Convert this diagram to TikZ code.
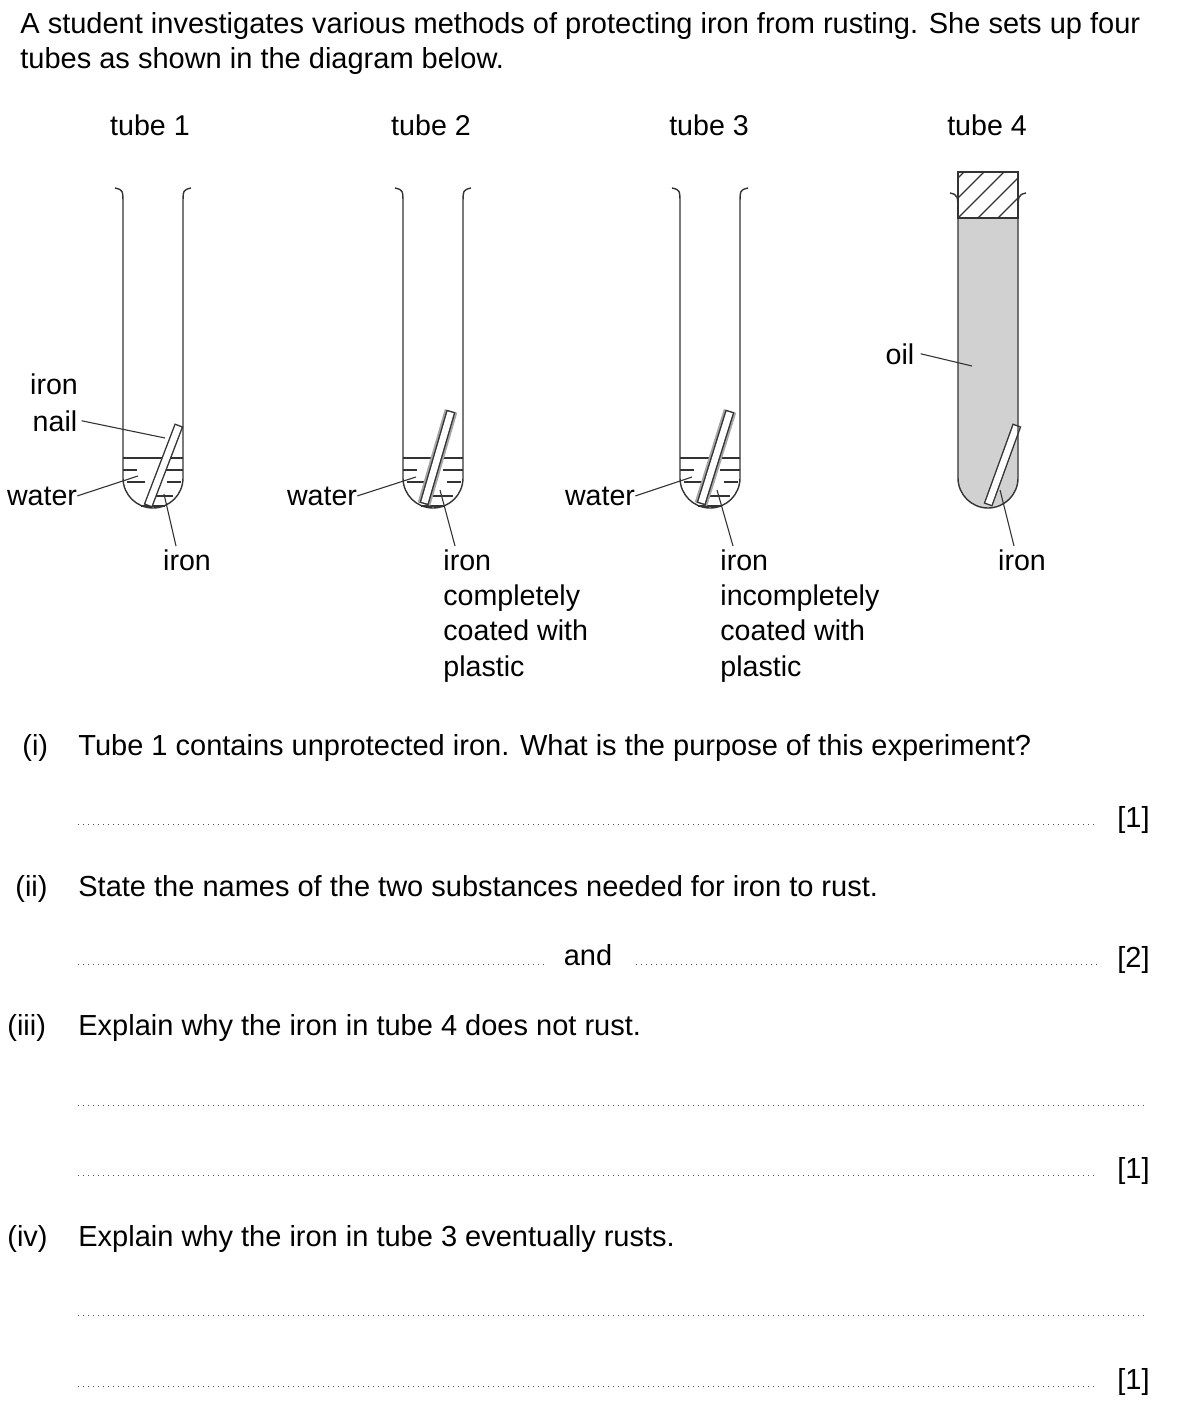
\documentclass[tikz,border=0pt]{standalone}
\usepackage{fontspec}
\setmainfont{Liberation Sans}
\begin{document}
\begin{tikzpicture}[x=0.5pt,y=-0.5pt,
  txt/.style={inner sep=0pt,font=\fontsize{14.5pt}{17pt}\selectfont,anchor=base west},
  lbl/.style={inner sep=0pt,font=\fontsize{14.3pt}{17pt}\selectfont},
  glass/.style={draw=black!80,line width=0.7pt},
  lead/.style={draw=black!80,line width=0.55pt},
  ans/.style={draw=black!70,dotted,line width=0.5pt}]
\useasboundingbox (0,0) rectangle (1202,1412);
\newcommand{\tubeat}[1]{%
  \draw[glass] (#1-8,188) .. controls (#1,190) .. (#1,205) -- (#1,478) arc (180:360:15pt) -- (#1+60,205) .. controls (#1+60,190) .. (#1+68,188);}
\newcommand{\nailat}[4]{%
  \draw[black!80,line width=4.6pt] (#1,#2) -- (#3,#4);
  \draw[white,line width=3.2pt,shorten <=0.7pt,shorten >=0.7pt] (#1,#2) -- (#3,#4);}
\newcommand{\waterat}[1]{%
  \draw[glass,line width=0.6pt] (#1,458) -- (#1+60,458);
  \foreach \a/\b/\yy in {0/14/470,40/60/470,4/22/482,44/58/482,30/50/496,18/42/506}
    \draw[black!80,line width=0.6pt] (#1+\a,\yy) -- (#1+\b,\yy);}
% header text
\node[txt] (l1) at (20,34) {A student investigates various methods of protecting iron from rusting. She sets up four};
\node[txt] (l2) at (20,69) {tubes as shown in the diagram below.};
\node[lbl,anchor=base] (t1) at (150,136) {tube 1};
\node[lbl,anchor=base] (t2) at (431,136) {tube 2};
\node[lbl,anchor=base] (t3) at (709,136) {tube 3};
\node[lbl,anchor=base] (t4) at (987,136) {tube 4};
% tube 1
\waterat{123}
\nailat{148}{506}{179}{425}
\tubeat{123}
% tube 2
\waterat{403}
\draw[black!35,line width=6.5pt] (424,504) -- (451,411);
\nailat{424}{504}{451}{411}
\tubeat{403}
% tube 3
\waterat{680}
\draw[black!35,line width=6.5pt] (701,504) -- (730,411);
\nailat{701}{504}{730}{411}
\tubeat{680}
% tube 4
\fill[black!18] (958,218) -- (958,478) arc (180:360:15pt) -- (1018,218) -- cycle;
\nailat{988}{505}{1017}{425}
\draw[glass] (950,193) .. controls (958,195) .. (958,215) -- (958,478) arc (180:360:15pt) -- (1018,215) .. controls (1018,195) .. (1026,193);
\begin{scope}
\clip (958,172) rectangle (1018,218);
\foreach \k in {-40,-20,...,80} \draw[black!80,line width=0.6pt] (958+\k,218) -- (958+\k+46,172);
\end{scope}
\draw[glass,fill=none] (958,172) rectangle (1018,218);
% labels tube 1
\node[lbl,anchor=base] (iron1a) at (54,394) {iron};
\node[lbl,anchor=base] (nail1) at (55,431) {nail};
\coordinate (nail1p) at (165,438);
\draw[lead] (nail1.east) ++(2pt,0) -- (nail1p);
\node[lbl,anchor=base] (water1) at (42,505) {water};
\coordinate (water1p) at (138,476);
\draw[lead] (water1.east) -- (water1p);
\node[lbl,anchor=base] (iron1) at (187,570) {iron};
\coordinate (iron1p) at (164,494);
\draw[lead] (176,546) -- (iron1p);
% tube 2
\node[lbl,anchor=base] (water2) at (322,505) {water};
\coordinate (water2p) at (416,477);
\draw[lead] (water2.east) -- (water2p);
\node[lbl,anchor=base west] (iron2) at (443,570) {iron};
\node[lbl,anchor=base west] (iron2b) at (443,605) {completely};
\node[lbl,anchor=base west] (iron2c) at (443,640) {coated with};
\node[lbl,anchor=base west] (iron2d) at (443,676) {plastic};
\coordinate (iron2p) at (440,490);
\draw[lead] (455,546) -- (iron2p);
% tube 3
\node[lbl,anchor=base] (water3) at (600,505) {water};
\coordinate (water3p) at (692,477);
\draw[lead] (water3.east) -- (water3p);
\node[lbl,anchor=base west] (iron3) at (720,570) {iron};
\node[lbl,anchor=base west] (iron3b) at (720,605) {incompletely};
\node[lbl,anchor=base west] (iron3c) at (720,640) {coated with};
\node[lbl,anchor=base west] (iron3d) at (720,676) {plastic};
\coordinate (iron3p) at (717,490);
\draw[lead] (733,546) -- (iron3p);
% tube 4
\node[lbl,anchor=base] (oil) at (900,364) {oil};
\coordinate (oilp) at (972,366);
\draw[lead] (oil.east) ++(3pt,0) -- (oilp);
\node[lbl,anchor=base] (iron4) at (1022,570) {iron};
\coordinate (iron4p) at (1000,490);
\draw[lead] (1014,546) -- (iron4p);
% questions
\node[txt] (q1n) at (22,755) {(i)};
\node[txt] (q1) at (78,755) {Tube 1 contains unprotected iron. What is the purpose of this experiment?};
\draw[ans] (78,824) -- (1097,824);
\node[txt,anchor=base east] (m1) at (1150,827) {[1]};
\node[txt] (q2n) at (15,896) {(ii)};
\node[txt] (q2) at (78,896) {State the names of the two substances needed for iron to rust.};
\draw[ans] (78,964) -- (547,964);
\node[txt,anchor=base] (and) at (588,965) {and};
\draw[ans] (636,964) -- (1097,964);
\node[txt,anchor=base east] (m2) at (1150,967) {[2]};
\node[txt] (q3n) at (7,1035) {(iii)};
\node[txt] (q3) at (78,1035) {Explain why the iron in tube 4 does not rust.};
\draw[ans] (78,1105) -- (1147,1105);
\draw[ans] (78,1175) -- (1097,1175);
\node[txt,anchor=base east] (m3) at (1150,1178) {[1]};
\node[txt] (q4n) at (7,1246) {(iv)};
\node[txt] (q4) at (78,1246) {Explain why the iron in tube 3 eventually rusts.};
\draw[ans] (78,1315) -- (1147,1315);
\draw[ans] (78,1386) -- (1097,1386);
\node[txt,anchor=base east] (m4) at (1150,1389) {[1]};
\end{tikzpicture}
\end{document}
